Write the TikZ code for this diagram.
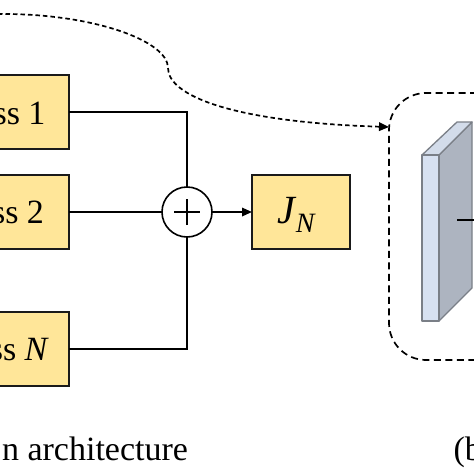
\documentclass[tikz,border=0pt]{standalone}
\usepackage{fontspec}
\setmainfont{Liberation Serif}
\newfontfamily\lserif{Liberation Serif}
\usetikzlibrary{arrows.meta}
\definecolor{lossfill}{HTML}{FFE699}
\definecolor{edgedark}{HTML}{1A1A1A}
\definecolor{slabfront}{HTML}{D7E1F1}
\definecolor{slabside}{HTML}{ADB4C0}
\definecolor{slabtop}{HTML}{D3DCEA}
\definecolor{slabedge}{HTML}{7A7F87}
\begin{document}
\begin{tikzpicture}[x=1pt,y=-1pt,
  lossbox/.style={draw=edgedark, line width=1.6pt, fill=lossfill, inner sep=0pt, outer sep=0pt},
  lbl/.style={font=\lserif\fontsize{34}{40}\selectfont, inner sep=0pt, outer sep=0pt},
  wire/.style={line width=1.7pt, draw=black},
  tipstyle/.style={-{Triangle[length=10pt,width=8.5pt]}},
  dashcurve/.style={line width=1.7pt, dash pattern=on 4.5pt off 3pt},
  panelbox/.style={draw=black, line width=1.7pt, dash pattern=on 7pt off 4.5pt, rounded corners=37pt, inner sep=0pt, outer sep=0pt},
  slabface/.style={draw=slabedge, line width=1.3pt, line join=round}]
\useasboundingbox (0,0) rectangle (474,474);
\fill[white] (0,0) rectangle (474,474);
\clip (0,0) rectangle (474,474);

% loss boxes
\node[lossbox, minimum width=120pt, minimum height=74pt] (b1) at (9,112) {};
\node[lossbox, minimum width=120pt, minimum height=74pt] (b2) at (9,212) {};
\node[lossbox, minimum width=120pt, minimum height=74pt] (bN) at (9,349) {};
\node[lbl, anchor=base east] (t1) at (45.5,124) {ss 1};
\node[lbl, anchor=base east] (t2) at (44,223) {ss 2};
\node[lbl, anchor=base east] (tN) at (49,360) {ss \textit{N}};

% sum node
\node[draw, circle, line width=1.6pt, minimum size=50pt, inner sep=0pt, outer sep=0pt] (sum) at (187,212) {};
\draw[wire] ([xshift=-13pt]sum.center) -- ([xshift=13pt]sum.center);
\draw[wire] ([yshift=-13pt]sum.center) -- ([yshift=13pt]sum.center);

% J_N box
\node[lossbox, minimum width=98pt, minimum height=74pt] (jn) at (301,212) {};
\node[inner sep=0pt, anchor=base west] (jnt) at (277,223)
  {\lserif\fontsize{40}{44}\selectfont\itshape J\kern1pt\raisebox{-9pt}{\fontsize{28}{30}\selectfont N}};

% connectors
\draw[wire] (b1.east) -| (sum.north);
\draw[wire] (b2.east) -- (sum.west);
\draw[wire] (bN.east) -| (sum.south);
\draw[wire, tipstyle] (sum.east) -- (jn.west);

% dashed panel
\node[panelbox, minimum width=171pt, minimum height=267pt] (panel) at (474.5,226.5) {};

% slab
\filldraw[slabface, fill=slabside] (439,155) -- (472,122) -- (472,288) -- (439,321) -- cycle;
\filldraw[slabface, fill=slabtop] (422,155) -- (457,122) -- (472,122) -- (439,155) -- cycle;
\filldraw[slabface, fill=slabfront] (422,155) rectangle (439,321);
\coordinate (ls) at (457,220);
\coordinate (le) at (480,220);
\draw[wire] (ls) -- (le);

% dashed curve
\coordinate (cstart) at (-2,14);
\coordinate (tip) at (389,127);
\draw[dashcurve, tipstyle] (cstart) .. controls (90,13) and (168,40) .. (168,68)
   .. controls (168,95) and (230,122) .. (tip);

% captions
\node[lbl, anchor=base east] (capa) at (188,460) {n architecture};
\node[lbl, anchor=base west] (capb) at (453.5,460) {(b};
\end{tikzpicture}
\end{document}
